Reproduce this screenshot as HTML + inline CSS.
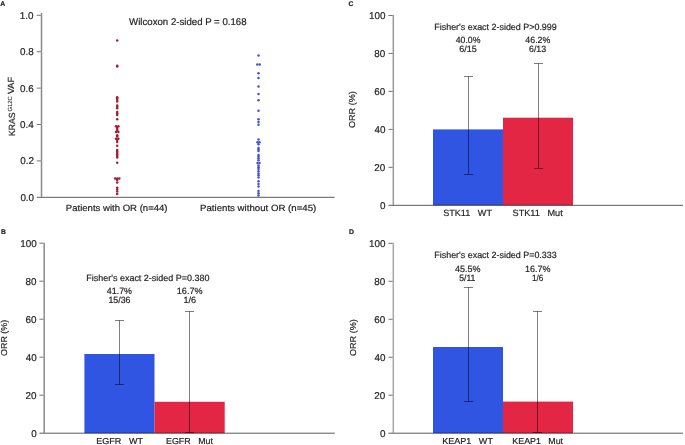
<!DOCTYPE html>
<html><head><meta charset="utf-8"><style>
html,body{margin:0;padding:0;background:#fff;}
svg{display:block;will-change:transform;text-rendering:geometricPrecision;filter:blur(0.3px);}
text{font-family:"Liberation Sans",sans-serif;fill:#231f20;stroke:#231f20;stroke-width:0.2px;}
</style></head><body>
<svg width="685" height="445" viewBox="0 0 685 445">
<rect width="685" height="445" fill="#fff"/>
<line x1="41.5" y1="13.0" x2="41.5" y2="196.8" stroke="#000" stroke-opacity="0.46" stroke-width="1.5"/>
<line x1="36.7" y1="160.90" x2="40.75" y2="160.90" stroke="#000" stroke-opacity="0.55" stroke-width="1"/>
<line x1="36.7" y1="124.50" x2="40.75" y2="124.50" stroke="#000" stroke-opacity="0.55" stroke-width="1"/>
<line x1="36.7" y1="88.10" x2="40.75" y2="88.10" stroke="#000" stroke-opacity="0.55" stroke-width="1"/>
<line x1="36.7" y1="51.70" x2="40.75" y2="51.70" stroke="#000" stroke-opacity="0.55" stroke-width="1"/>
<line x1="36.7" y1="15.30" x2="40.75" y2="15.30" stroke="#000" stroke-opacity="0.55" stroke-width="1"/>
<line x1="36.7" y1="197.3" x2="334.5" y2="197.3" stroke="#000" stroke-opacity="0.65" stroke-width="1"/>
<circle cx="117.20" cy="40.50" r="1.25" fill="#a51c36"/>
<circle cx="117.20" cy="65.70" r="1.25" fill="#a51c36"/>
<circle cx="117.20" cy="66.60" r="1.25" fill="#a51c36"/>
<circle cx="117.20" cy="97.20" r="1.25" fill="#a51c36"/>
<circle cx="117.20" cy="98.30" r="1.25" fill="#a51c36"/>
<circle cx="117.20" cy="99.70" r="1.25" fill="#a51c36"/>
<circle cx="117.20" cy="101.40" r="1.25" fill="#a51c36"/>
<circle cx="117.20" cy="105.50" r="1.25" fill="#a51c36"/>
<circle cx="117.20" cy="106.80" r="1.25" fill="#a51c36"/>
<circle cx="117.20" cy="108.20" r="1.25" fill="#a51c36"/>
<circle cx="117.20" cy="112.00" r="1.25" fill="#a51c36"/>
<circle cx="117.20" cy="113.50" r="1.25" fill="#a51c36"/>
<circle cx="117.20" cy="115.00" r="1.25" fill="#a51c36"/>
<circle cx="117.20" cy="119.20" r="1.25" fill="#a51c36"/>
<circle cx="116.00" cy="126.20" r="1.25" fill="#a51c36"/>
<circle cx="118.40" cy="126.20" r="1.25" fill="#a51c36"/>
<circle cx="117.20" cy="127.60" r="1.25" fill="#a51c36"/>
<circle cx="117.20" cy="129.00" r="1.25" fill="#a51c36"/>
<circle cx="117.20" cy="130.40" r="1.25" fill="#a51c36"/>
<circle cx="116.00" cy="131.90" r="1.25" fill="#a51c36"/>
<circle cx="118.40" cy="131.90" r="1.25" fill="#a51c36"/>
<circle cx="117.20" cy="135.20" r="1.25" fill="#a51c36"/>
<circle cx="117.20" cy="136.60" r="1.25" fill="#a51c36"/>
<circle cx="116.00" cy="138.80" r="1.25" fill="#a51c36"/>
<circle cx="118.40" cy="138.80" r="1.25" fill="#a51c36"/>
<circle cx="117.20" cy="140.00" r="1.25" fill="#a51c36"/>
<circle cx="117.20" cy="141.90" r="1.25" fill="#a51c36"/>
<circle cx="117.20" cy="145.80" r="1.25" fill="#a51c36"/>
<circle cx="117.20" cy="150.00" r="1.25" fill="#a51c36"/>
<circle cx="117.20" cy="151.50" r="1.25" fill="#a51c36"/>
<circle cx="117.20" cy="153.00" r="1.25" fill="#a51c36"/>
<circle cx="117.20" cy="154.50" r="1.25" fill="#a51c36"/>
<circle cx="117.20" cy="156.00" r="1.25" fill="#a51c36"/>
<circle cx="117.20" cy="157.60" r="1.25" fill="#a51c36"/>
<circle cx="117.20" cy="162.80" r="1.25" fill="#a51c36"/>
<circle cx="115.10" cy="178.40" r="1.25" fill="#a51c36"/>
<circle cx="117.20" cy="178.40" r="1.25" fill="#a51c36"/>
<circle cx="119.30" cy="178.40" r="1.25" fill="#a51c36"/>
<circle cx="117.20" cy="180.10" r="1.25" fill="#a51c36"/>
<circle cx="117.20" cy="182.60" r="1.25" fill="#a51c36"/>
<circle cx="117.20" cy="187.80" r="1.25" fill="#a51c36"/>
<circle cx="117.20" cy="189.60" r="1.25" fill="#a51c36"/>
<circle cx="117.20" cy="191.50" r="1.25" fill="#a51c36"/>
<circle cx="117.20" cy="193.90" r="1.25" fill="#a51c36"/>
<circle cx="258.50" cy="55.50" r="1.25" fill="#4453cf"/>
<circle cx="257.30" cy="64.60" r="1.25" fill="#4453cf"/>
<circle cx="259.70" cy="64.60" r="1.25" fill="#4453cf"/>
<circle cx="258.50" cy="73.30" r="1.25" fill="#4453cf"/>
<circle cx="258.50" cy="78.00" r="1.25" fill="#4453cf"/>
<circle cx="258.50" cy="86.50" r="1.25" fill="#4453cf"/>
<circle cx="258.50" cy="93.90" r="1.25" fill="#4453cf"/>
<circle cx="258.50" cy="100.30" r="1.25" fill="#4453cf"/>
<circle cx="258.50" cy="110.80" r="1.25" fill="#4453cf"/>
<circle cx="258.50" cy="119.30" r="1.25" fill="#4453cf"/>
<circle cx="258.50" cy="122.00" r="1.25" fill="#4453cf"/>
<circle cx="258.50" cy="124.70" r="1.25" fill="#4453cf"/>
<circle cx="258.50" cy="139.60" r="1.25" fill="#4453cf"/>
<circle cx="257.50" cy="142.30" r="1.25" fill="#4453cf"/>
<circle cx="259.50" cy="142.30" r="1.25" fill="#4453cf"/>
<circle cx="258.50" cy="144.20" r="1.25" fill="#4453cf"/>
<circle cx="258.50" cy="147.90" r="1.25" fill="#4453cf"/>
<circle cx="258.50" cy="149.40" r="1.25" fill="#4453cf"/>
<circle cx="258.50" cy="150.90" r="1.25" fill="#4453cf"/>
<circle cx="258.50" cy="154.90" r="1.25" fill="#4453cf"/>
<circle cx="258.50" cy="156.50" r="1.25" fill="#4453cf"/>
<circle cx="258.50" cy="158.20" r="1.25" fill="#4453cf"/>
<circle cx="258.50" cy="160.20" r="1.25" fill="#4453cf"/>
<circle cx="257.50" cy="163.00" r="1.25" fill="#4453cf"/>
<circle cx="259.50" cy="163.00" r="1.25" fill="#4453cf"/>
<circle cx="258.50" cy="165.40" r="1.25" fill="#4453cf"/>
<circle cx="258.50" cy="167.20" r="1.25" fill="#4453cf"/>
<circle cx="258.50" cy="169.00" r="1.25" fill="#4453cf"/>
<circle cx="258.50" cy="171.30" r="1.25" fill="#4453cf"/>
<circle cx="258.50" cy="173.50" r="1.25" fill="#4453cf"/>
<circle cx="258.50" cy="175.30" r="1.25" fill="#4453cf"/>
<circle cx="258.50" cy="177.60" r="1.25" fill="#4453cf"/>
<circle cx="258.50" cy="181.20" r="1.25" fill="#4453cf"/>
<circle cx="258.50" cy="183.90" r="1.25" fill="#4453cf"/>
<circle cx="258.50" cy="186.60" r="1.25" fill="#4453cf"/>
<circle cx="258.50" cy="191.10" r="1.25" fill="#4453cf"/>
<circle cx="258.50" cy="193.30" r="1.25" fill="#4453cf"/>
<circle cx="258.50" cy="195.60" r="1.25" fill="#4453cf"/>
<rect x="433" y="129.40" width="70" height="75.90" fill="#3055e2"/>
<rect x="503" y="117.70" width="70" height="87.60" fill="#e22644"/>
<line x1="393.3" y1="15.0" x2="393.3" y2="204.8" stroke="#000" stroke-opacity="0.4" stroke-width="1.5"/>
<line x1="388.5" y1="167.34" x2="392.55" y2="167.34" stroke="#000" stroke-opacity="0.55" stroke-width="1"/>
<line x1="388.5" y1="129.38" x2="392.55" y2="129.38" stroke="#000" stroke-opacity="0.55" stroke-width="1"/>
<line x1="388.5" y1="91.42" x2="392.55" y2="91.42" stroke="#000" stroke-opacity="0.55" stroke-width="1"/>
<line x1="388.5" y1="53.46" x2="392.55" y2="53.46" stroke="#000" stroke-opacity="0.55" stroke-width="1"/>
<line x1="388.5" y1="15.50" x2="392.55" y2="15.50" stroke="#000" stroke-opacity="0.55" stroke-width="1"/>
<line x1="388.5" y1="205.3" x2="683" y2="205.3" stroke="#000" stroke-opacity="0.65" stroke-width="1"/>
<g stroke="#000" stroke-opacity="0.5" stroke-width="1"><line x1="468.5" y1="76.50" x2="468.5" y2="174.50"/><line x1="464.0" y1="76.50" x2="473.0" y2="76.50"/><line x1="464.0" y1="174.50" x2="473.0" y2="174.50"/></g>
<g stroke="#000" stroke-opacity="0.5" stroke-width="1"><line x1="538.5" y1="63.50" x2="538.5" y2="168.50"/><line x1="534.0" y1="63.50" x2="543.0" y2="63.50"/><line x1="534.0" y1="168.50" x2="543.0" y2="168.50"/></g>
<rect x="84.4" y="354.00" width="70.1" height="79.20" fill="#3055e2"/>
<rect x="154.5" y="401.80" width="70.19999999999999" height="31.40" fill="#e22644"/>
<line x1="44.2" y1="242.7" x2="44.2" y2="432.7" stroke="#000" stroke-opacity="0.46" stroke-width="1.5"/>
<line x1="39.400000000000006" y1="395.20" x2="43.45" y2="395.20" stroke="#000" stroke-opacity="0.55" stroke-width="1"/>
<line x1="39.400000000000006" y1="357.20" x2="43.45" y2="357.20" stroke="#000" stroke-opacity="0.55" stroke-width="1"/>
<line x1="39.400000000000006" y1="319.20" x2="43.45" y2="319.20" stroke="#000" stroke-opacity="0.55" stroke-width="1"/>
<line x1="39.400000000000006" y1="281.20" x2="43.45" y2="281.20" stroke="#000" stroke-opacity="0.55" stroke-width="1"/>
<line x1="39.400000000000006" y1="243.20" x2="43.45" y2="243.20" stroke="#000" stroke-opacity="0.55" stroke-width="1"/>
<line x1="39.400000000000006" y1="433.2" x2="334.8" y2="433.2" stroke="#000" stroke-opacity="0.65" stroke-width="1"/>
<g stroke="#000" stroke-opacity="0.5" stroke-width="1"><line x1="119.5" y1="320.50" x2="119.5" y2="384.50"/><line x1="115.0" y1="320.50" x2="124.0" y2="320.50"/><line x1="115.0" y1="384.50" x2="124.0" y2="384.50"/></g>
<g stroke="#000" stroke-opacity="0.5" stroke-width="1"><line x1="189.5" y1="311.50" x2="189.5" y2="432.50"/><line x1="185.0" y1="311.50" x2="194.0" y2="311.50"/><line x1="185.0" y1="432.50" x2="194.0" y2="432.50"/></g>
<rect x="433" y="347.00" width="70" height="86.20" fill="#3055e2"/>
<rect x="503" y="401.60" width="70" height="31.60" fill="#e22644"/>
<line x1="393.3" y1="242.8" x2="393.3" y2="432.7" stroke="#000" stroke-opacity="0.34" stroke-width="1.5"/>
<line x1="388.5" y1="395.22" x2="392.55" y2="395.22" stroke="#000" stroke-opacity="0.55" stroke-width="1"/>
<line x1="388.5" y1="357.24" x2="392.55" y2="357.24" stroke="#000" stroke-opacity="0.55" stroke-width="1"/>
<line x1="388.5" y1="319.26" x2="392.55" y2="319.26" stroke="#000" stroke-opacity="0.55" stroke-width="1"/>
<line x1="388.5" y1="281.28" x2="392.55" y2="281.28" stroke="#000" stroke-opacity="0.55" stroke-width="1"/>
<line x1="388.5" y1="243.30" x2="392.55" y2="243.30" stroke="#000" stroke-opacity="0.55" stroke-width="1"/>
<line x1="388.5" y1="433.2" x2="683" y2="433.2" stroke="#000" stroke-opacity="0.65" stroke-width="1"/>
<g stroke="#000" stroke-opacity="0.5" stroke-width="1"><line x1="468.5" y1="287.50" x2="468.5" y2="401.50"/><line x1="464.0" y1="287.50" x2="473.0" y2="287.50"/><line x1="464.0" y1="401.50" x2="473.0" y2="401.50"/></g>
<g stroke="#000" stroke-opacity="0.5" stroke-width="1"><line x1="537.5" y1="311.50" x2="537.5" y2="432.50"/><line x1="533.0" y1="311.50" x2="542.0" y2="311.50"/><line x1="533.0" y1="432.50" x2="542.0" y2="432.50"/></g>
<text id="tA" font-size="9.8" textLength="117.44" lengthAdjust="spacingAndGlyphs" x="129.12" y="25.20" xml:space="preserve">Wilcoxon 2-sided P = 0.168</text>
<text id="xA1" font-size="9.1" textLength="101.72" lengthAdjust="spacingAndGlyphs" x="65.85" y="211.20" xml:space="preserve">Patients with OR (n=44)</text>
<text id="xA2" font-size="9.1" textLength="116.27" lengthAdjust="spacingAndGlyphs" x="200.00" y="211.20" xml:space="preserve">Patients without OR (n=45)</text>
<text id="yA1" font-size="8.9" textLength="23.56" lengthAdjust="spacingAndGlyphs" transform="translate(14.52,136.00) rotate(-90)" xml:space="preserve">KRAS</text>
<text id="yA2" font-size="6.0" style="stroke-width:0.05px" textLength="15.30" lengthAdjust="spacingAndGlyphs" transform="translate(11.53,111.61) rotate(-90)" xml:space="preserve">G12C</text>
<text id="yA3" font-size="8.9" textLength="17.12" lengthAdjust="spacingAndGlyphs" transform="translate(14.20,94.12) rotate(-90)" xml:space="preserve">VAF</text>
<text id="pA" font-size="6.8" font-weight="bold" x="0.36" y="6.20" xml:space="preserve">A</text>
<text id="fC" font-size="9.0" textLength="122.45" lengthAdjust="spacingAndGlyphs" x="434.32" y="30.20" xml:space="preserve">Fisher's exact 2-sided P&gt;0.999</text>
<text id="pC1" font-size="9.0" textLength="24.65" lengthAdjust="spacingAndGlyphs" x="455.73" y="43.20" xml:space="preserve">40.0%</text>
<text id="nC1" font-size="9.0" textLength="17.47" lengthAdjust="spacingAndGlyphs" x="459.30" y="52.20" xml:space="preserve">6/15</text>
<text id="pC2" font-size="9.0" textLength="24.93" lengthAdjust="spacingAndGlyphs" x="525.36" y="43.20" xml:space="preserve">46.2%</text>
<text id="nC2" font-size="9.0" textLength="17.19" lengthAdjust="spacingAndGlyphs" x="529.01" y="52.20" xml:space="preserve">6/13</text>
<text id="xC1" font-size="9.1" textLength="48.83" lengthAdjust="spacingAndGlyphs" x="443.17" y="216.20" xml:space="preserve">STK11   WT</text>
<text id="xC2" font-size="9.1" textLength="50.18" lengthAdjust="spacingAndGlyphs" x="512.56" y="216.20" xml:space="preserve">STK11   Mut</text>
<text id="yC" font-size="8.6" textLength="36.79" lengthAdjust="spacingAndGlyphs" transform="translate(355.00,128.00) rotate(-90)" xml:space="preserve">ORR (%)</text>
<text id="lC" font-size="6.8" font-weight="bold" x="348.60" y="6.20" xml:space="preserve">C</text>
<text id="fB" font-size="9.0" textLength="123.15" lengthAdjust="spacingAndGlyphs" x="86.30" y="281.20" xml:space="preserve">Fisher's exact 2-sided P=0.380</text>
<text id="pB1" font-size="9.0" textLength="25.17" lengthAdjust="spacingAndGlyphs" x="106.83" y="294.20" xml:space="preserve">41.7%</text>
<text id="nB1" font-size="9.0" textLength="22.12" lengthAdjust="spacingAndGlyphs" x="108.43" y="303.20" xml:space="preserve">15/36</text>
<text id="pB2" font-size="9.0" textLength="25.70" lengthAdjust="spacingAndGlyphs" x="176.84" y="294.20" xml:space="preserve">16.7%</text>
<text id="nB2" font-size="9.0" textLength="12.63" lengthAdjust="spacingAndGlyphs" x="183.55" y="303.20" xml:space="preserve">1/6</text>
<text id="xB1" font-size="8.6" textLength="46.74" lengthAdjust="spacingAndGlyphs" x="96.26" y="444.20" xml:space="preserve">EGFR   WT</text>
<text id="xB2" font-size="8.6" textLength="46.99" lengthAdjust="spacingAndGlyphs" x="166.00" y="444.20" xml:space="preserve">EGFR   Mut</text>
<text id="yB" font-size="8.6" textLength="36.21" lengthAdjust="spacingAndGlyphs" transform="translate(7.00,356.00) rotate(-90)" xml:space="preserve">ORR (%)</text>
<text id="lB" font-size="6.8" font-weight="bold" x="0.89" y="234.20" xml:space="preserve">B</text>
<text id="fD" font-size="9.0" textLength="122.42" lengthAdjust="spacingAndGlyphs" x="434.32" y="258.20" xml:space="preserve">Fisher's exact 2-sided P=0.333</text>
<text id="pD1" font-size="9.0" textLength="25.42" lengthAdjust="spacingAndGlyphs" x="455.00" y="272.20" xml:space="preserve">45.5%</text>
<text id="nD1" font-size="9.0" textLength="16.21" lengthAdjust="spacingAndGlyphs" x="459.19" y="281.20" xml:space="preserve">5/11</text>
<text id="pD2" font-size="9.0" textLength="25.40" lengthAdjust="spacingAndGlyphs" x="525.06" y="272.20" xml:space="preserve">16.7%</text>
<text id="nD2" font-size="9.0" textLength="11.38" lengthAdjust="spacingAndGlyphs" x="531.98" y="281.20" xml:space="preserve">1/6</text>
<text id="xD1" font-size="8.6" textLength="50.78" lengthAdjust="spacingAndGlyphs" x="442.15" y="444.20" xml:space="preserve">KEAP1   WT</text>
<text id="xD2" font-size="8.6" textLength="50.78" lengthAdjust="spacingAndGlyphs" x="512.31" y="444.20" xml:space="preserve">KEAP1   Mut</text>
<text id="yD" font-size="8.6" textLength="36.79" lengthAdjust="spacingAndGlyphs" transform="translate(356.00,356.00) rotate(-90)" xml:space="preserve">ORR (%)</text>
<text id="lD" font-size="6.8" font-weight="bold" x="348.98" y="234.20" xml:space="preserve">D</text>
<text id="kA0" font-size="9.9" text-anchor="end" x="34.12" y="201.20" xml:space="preserve">0.0</text>
<text id="kA1" font-size="9.9" text-anchor="end" x="34.00" y="164.20" xml:space="preserve">0.2</text>
<text id="kA2" font-size="9.9" text-anchor="end" x="33.68" y="128.20" xml:space="preserve">0.4</text>
<text id="kA3" font-size="9.9" text-anchor="end" x="33.74" y="92.20" xml:space="preserve">0.6</text>
<text id="kA4" font-size="9.9" text-anchor="end" x="33.76" y="55.20" xml:space="preserve">0.8</text>
<text id="kA5" font-size="9.9" text-anchor="end" x="33.44" y="19.20" xml:space="preserve">1.0</text>
<text id="kB0" font-size="9.9" text-anchor="end" x="36.82" y="437.20" xml:space="preserve">0</text>
<text id="kB1" font-size="9.9" text-anchor="end" x="36.44" y="399.20" xml:space="preserve">20</text>
<text id="kB2" font-size="9.9" text-anchor="end" x="36.84" y="361.20" xml:space="preserve">40</text>
<text id="kB3" font-size="9.9" text-anchor="end" x="36.44" y="323.20" xml:space="preserve">60</text>
<text id="kB4" font-size="9.9" text-anchor="end" x="36.44" y="285.20" xml:space="preserve">80</text>
<text id="kB5" font-size="9.9" text-anchor="end" x="36.83" y="247.20" xml:space="preserve">100</text>
<text id="kC0" font-size="9.9" text-anchor="end" x="385.53" y="209.20" xml:space="preserve">0</text>
<text id="kC1" font-size="9.9" text-anchor="end" x="385.33" y="171.20" xml:space="preserve">20</text>
<text id="kC2" font-size="9.9" text-anchor="end" x="385.54" y="133.20" xml:space="preserve">40</text>
<text id="kC3" font-size="9.9" text-anchor="end" x="385.33" y="95.20" xml:space="preserve">60</text>
<text id="kC4" font-size="9.9" text-anchor="end" x="385.33" y="57.20" xml:space="preserve">80</text>
<text id="kC5" font-size="9.9" text-anchor="end" x="385.53" y="19.20" xml:space="preserve">100</text>
<text id="kD0" font-size="9.9" text-anchor="end" x="385.53" y="437.20" xml:space="preserve">0</text>
<text id="kD1" font-size="9.9" text-anchor="end" x="385.33" y="399.20" xml:space="preserve">20</text>
<text id="kD2" font-size="9.9" text-anchor="end" x="385.54" y="361.20" xml:space="preserve">40</text>
<text id="kD3" font-size="9.9" text-anchor="end" x="385.33" y="323.20" xml:space="preserve">60</text>
<text id="kD4" font-size="9.9" text-anchor="end" x="385.33" y="285.20" xml:space="preserve">80</text>
<text id="kD5" font-size="9.9" text-anchor="end" x="385.53" y="247.20" xml:space="preserve">100</text>
</svg>
</body></html>
